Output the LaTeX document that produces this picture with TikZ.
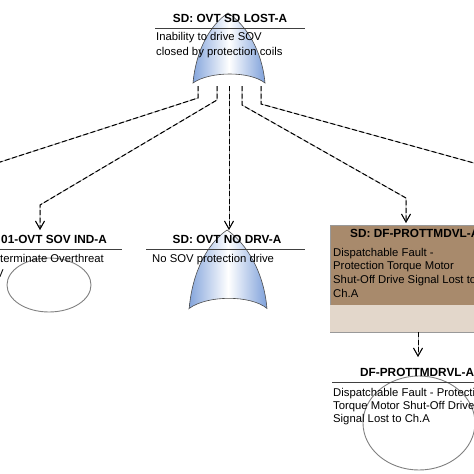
\documentclass[tikz,border=0pt]{standalone}
\usepackage{fontspec}
\setmainfont{Liberation Sans}
\usetikzlibrary{arrows.meta, positioning, calc, shapes.geometric}
\definecolor{GateBlue}{HTML}{7096D6}
\definecolor{FaultBrown}{HTML}{A88A6C}
\definecolor{FaultLight}{HTML}{E3D7CB}

\tikzset{
  >={Straight Barb[length=8pt, width=9pt]},
  title/.style={font=\bfseries\fontsize{11.8}{14}\selectfont, inner sep=0pt},
  desc/.style={font=\fontsize{11.3}{15}\selectfont, align=left, inner sep=0pt, anchor=north west},
  rule/.style={draw=black!75, line width=0.8pt},
  link/.style={draw=black, line width=1pt, dash pattern=on 5pt off 2.5pt,
               preaction={draw=black!35, solid, line width=0.8pt}},
  gate/.style={draw=black!70, line width=0.6pt, left color=GateBlue!85,
               right color=GateBlue!90, middle color=white},
  event/.style={ellipse, draw=black!50, line width=0.9pt, inner sep=0pt},
  orgate/.pic={
    \path[gate] (-35,70) .. controls (-32,37) and (-18,12) .. (0,0)
      .. controls (18,12) and (34,37) .. (37,70)
      .. controls (22,58) and (-18,58) .. cycle;
  }
}

\begin{document}
\begin{tikzpicture}[x=1pt, y=-1pt]
    \useasboundingbox (0,0) rectangle (474,474);
    \clip (0,0) rectangle (474,474);

    % gates and basic events
    \pic at (228,13) {orgate};
    \pic[xscale=1.08, yscale=1.12] at (227,230) {orgate};
    \node[event, minimum width=84pt, minimum height=54pt] (evLeft) at (49,285) {};
    \node[event, minimum width=112pt, minimum height=94pt] (evBot) at (419,423) {};

    % dispatchable fault box
    \node[draw=black!40, fill=FaultBrown, anchor=north west, inner sep=0pt,
          minimum width=160pt, minimum height=107pt] (box) at (330,225) {};
    \fill[FaultLight] ($(box.south west)+(0.3,-27)$) rectangle ($(box.south east)+(0,-0.3)$);

    % connector points
    \coordinate (in1) at (198,86);
    \coordinate (in2) at (217,86);
    \coordinate (in3) at (229,86);
    \coordinate (in4) at (242,86);
    \coordinate (in5) at (261,86);
    \coordinate (offL) at (-40,175);
    \coordinate (bendL) at (40,205);
    \coordinate (endL) at (40,230);
    \coordinate (endM) at (229,230);
    \coordinate (bendR) at (406,198);
    \coordinate (endR) at (406,223);
    \coordinate (offR) at (510,173);
    \coordinate (endB) at (418,357);

    \draw[link] (in1) -- ++(0,12) -- (offL);
    \draw[link,->] (in2) -- ++(0,14) -- (bendL) -- (endL);
    \draw[link,->] (in3) -- (endM);
    \draw[link,->] (in4) -- ++(0,19) -- (bendR) -- (endR);
    \draw[link] (in5) -- ++(0,18) -- (offR);
    \draw[link,->] (box.south -| endB) -- (endB);

    % top event
    \node[title, anchor=base] (tTop) at (230,22) {SD: OVT SD LOST-A};
    \draw[rule] (155,28) -- (305,28);
    \node[desc] (dTop) at (156,31.8) {Inability to drive SOV\\closed by protection coils};

    % left event
    \node[title, anchor=base east] (tLeft) at (107,243) {01-OVT SOV IND-A};
    \draw[rule] (-5,249) -- (122,249);
    \node[desc] (dLeft) at (0,253.8) {terminate Overthreat\\\hspace*{-4pt}V};

    % middle gate
    \node[title, anchor=base] (tMid) at (227,243) {SD: OVT NO DRV-A};
    \draw[rule] (146,249) -- (305,249);
    \node[desc] (dMid) at (152,253.8) {No SOV protection drive};

    % box texts
    \node[title, anchor=base west] (tBox) at (350,237) {SD: DF-PROTTMDVL-A};
    \node[desc, font=\fontsize{11.3}{13.7}\selectfont] (dBox) at (333,247.8)
        {Dispatchable Fault -\\Protection Torque Motor\\Shut-Off Drive Signal Lost to\\Ch.A};

    % bottom event
    \node[title, anchor=base west] (tBot) at (360,376) {DF-PROTTMDRVL-A};
    \draw[rule] (332,382) -- (480,382);
    \node[desc, font=\fontsize{11.3}{13}\selectfont] (dBot) at (333,387.8)
        {Dispatchable Fault - Protection\\Torque Motor Shut-Off Drive\\Signal Lost to Ch.A};
\end{tikzpicture}
\end{document}
